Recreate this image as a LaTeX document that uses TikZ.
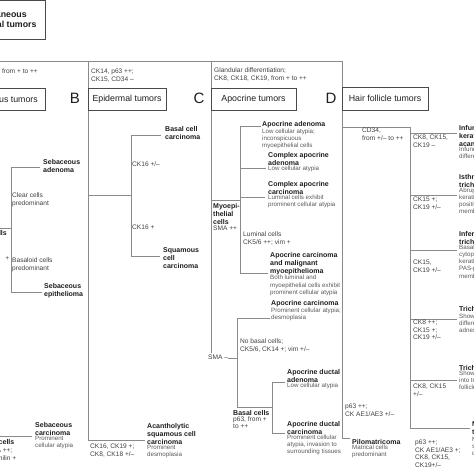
\documentclass[tikz,border=0pt]{standalone}
\usepackage{fontspec}
\setmainfont{Liberation Sans}
\definecolor{linegray}{HTML}{8A8A8A}
\definecolor{boxgray}{HTML}{4A4A4A}
\definecolor{txt}{HTML}{1E1E1E}
\definecolor{desc}{HTML}{5A5A5A}
\begin{document}
\begin{tikzpicture}[x=1pt,y=-1pt,
  ln/.style={draw=linegray, line width=0.8pt},
  tbox/.style={draw=boxgray, line width=0.9pt, fill=white, inner sep=0pt, text=txt, font=\fontsize{8.8}{10.5}\selectfont},
  nm/.style={anchor=north west, inner sep=0pt, align=left, text=txt, font=\fontsize{7}{7.9}\selectfont\bfseries},
  ds/.style={anchor=north west, inner sep=0pt, align=left, text=desc, font=\fontsize{6.2}{7.1}\selectfont},
  lb/.style={anchor=north west, inner sep=0pt, align=left, text=txt!85, font=\fontsize{6.6}{7.8}\selectfont},
  letter/.style={text=txt, font=\fontsize{15}{15}\selectfont, inner sep=0pt},
]
\useasboundingbox (0,0) rectangle (474,474);
\clip (0,0) rectangle (474,474);
\fill[white] (0,0) rectangle (474,474);

% ---------- connectors ----------
\coordinate (top0) at (0,61);
\coordinate (topD) at (342,61);
\draw[ln] (top0) -- (topD);
% column A
\draw[ln] (40,167) -- (11,167) -- (11,292) -- (42,292);
\draw[ln] (0,228) -- (11,228);
\draw[ln] (0,436) -- (32,436);
% column B
\coordinate (tB) at (88,61);
\draw[ln] (tB) -- (88,440) -- (145,440);
\draw[ln] (88,195) -- (131,195);
\draw[ln] (161,135) -- (131,135) -- (131,256) -- (160,256);
% column C
\coordinate (tC) at (211,61);
\draw[ln] (tC) -- (211,353);
\draw[ln] (211,200) -- (240,200);
\draw[ln] (261,126) -- (240,126) -- (240,273) -- (268,273);
\draw[ln] (240,168) -- (266,168);
\draw[ln] (240,197) -- (265,197);
\draw[ln] (228,358) -- (237,358);
\draw[ln] (270,318) -- (237,318) -- (237,407) -- (272,407);
\draw[ln] (285,382) -- (272,382) -- (272,433) -- (285,433);
% column D
\draw[ln] (topD) -- (342,438) -- (350,438);
\draw[ln] (342,127) -- (410,127) -- (410,428) -- (470,428);
\draw[ln] (410,133) -- (457,133);
\draw[ln] (410,195) -- (457,195);
\draw[ln] (410,250) -- (457,250);
\draw[ln] (410,319) -- (457,319);
\draw[ln] (410,380) -- (457,380);

% ---------- title boxes ----------
\draw[draw=boxgray, line width=0.9pt, fill=white] (-45,0.5) rectangle (45,39);
\node[text=txt, align=center, font=\fontsize{8.8}{10.5}\selectfont\bfseries] (root) at (4,19.5) {Cutaneous\\adnexal tumors};

\draw[draw=boxgray, line width=0.9pt, fill=white] (-45,88) rectangle (45,110);
\node[anchor=east, inner sep=0pt, text=txt, font=\fontsize{8.8}{10.5}\selectfont] (boxA) at (38,99) {Sebaceous tumors};
\node[lb, anchor=north east] (hA) at (38,68.5) {EMA, from + to ++};

\node[letter] (LB) at (75,98.5) {B};
\node[tbox, minimum width=78pt, minimum height=22pt] (boxB) at (127,99) {Epidermal tumors};
\node[lb] (hB) at (91,68.5) {CK14, p63 ++;\\CK15, CD34 --};

\node[letter] (LC) at (199,98.5) {C};
\node[tbox, minimum width=85pt, minimum height=22pt] (boxC) at (253.5,99) {Apocrine tumors};
\node[lb] (hC) at (214,67.5) {Glandular differentiation;\\CK8, CK18, CK19, from + to ++};

\node[letter] (LD) at (331,98) {D};
\node[tbox, minimum width=86pt, minimum height=23pt] (boxD) at (385,98.5) {Hair follicle tumors};

% ---------- column A ----------
\node[nm] (sa) at (43,159.5) {Sebaceous\\adenoma};
\node[lb] (cc) at (12,192.5) {Clear cells\\predominant};
\node[nm, anchor=north east] (ac) at (7,230.5) {Sebaceous cells};
\node[lb, anchor=north east] (ap) at (9.5,256.5) {+};
\node[lb] (bc) at (12,257.5) {Basaloid cells\\predominant};
\node[nm] (se) at (44,283.5) {Sebaceous\\epithelioma};
\node[nm] (sc) at (35,422.5) {Sebaceous\\carcinoma};
\node[ds] at (sc.south west) {Prominent\\cellular atypia};
\node[nm, anchor=north east] (bcl) at (14.5,439.5) {Basaloid cells};
\node[lb, anchor=north east] (bm) at (12.5,447.5) {EMA ++;};
\node[lb, anchor=north east] (bm2) at (16.5,455.5) {adipophilin +};

% ---------- column B ----------
\node[nm] (bcc) at (165,126.5) {Basal cell\\carcinoma};
\node[lb] (k1) at (132,161.5) {CK16 +/--};
\node[lb] (k2) at (132,224.5) {CK16 +};
\node[nm] (scc) at (163,247.5) {Squamous\\cell\\carcinoma};
\node[nm] (asc) at (147,423.5) {Acantholytic\\squamous cell\\carcinoma};
\node[ds] at (asc.south west) {Prominent\\desmoplasia};
\node[lb] (k3) at (90,443.5) {CK16, CK19 +;\\CK8, CK18 +/--};

% ---------- column C ----------
\node[nm] (myo) at (213,203.5) {Myoepi-\\thelial\\cells};
\node[lb, yshift=-1pt] at (myo.south west) {SMA ++};
\node[nm] (aa) at (262,121.5) {Apocrine adenoma};
\node[ds] at (aa.south west) {Low cellular atypia;\\inconspicuous\\myoepithelial cells};
\node[nm] (caa) at (268,152.5) {Complex apocrine\\adenoma};
\node[ds] at (caa.south west) {Low cellular atypia};
\node[nm] (cac) at (268,181.5) {Complex apocrine\\carcinoma};
\node[ds] at (cac.south west) {Luminal cells exhibit\\prominent cellular atypia};
\node[lb] (lum) at (243,231.5) {Luminal cells\\CK5/6 ++; vim +};
\node[nm] (acm) at (270,252.5) {Apocrine carcinoma\\and malignant\\myoepithelioma};
\node[ds] at (acm.south west) {Both luminal and\\myoepithelial cells exhibit\\prominent cellular atypia};
\node[lb] (sma) at (208,354.5) {SMA --};
\node[nm] (ac2) at (271,300.5) {Apocrine carcinoma};
\node[ds] at (ac2.south west) {Prominent cellular atypia;\\desmoplasia};
\node[lb] (nb) at (240,338.5) {No basal cells;\\CK5/6, CK14 +; vim +/--};
\node[nm] (bas) at (233,410.5) {Basal cells};
\node[lb] at (bas.south west) {p63, from +\\to ++};
\node[nm] (ada) at (287,369.5) {Apocrine ductal\\adenoma};
\node[ds] at (ada.south west) {Low cellular atypia};
\node[nm] (adc) at (287,421.5) {Apocrine ductal\\carcinoma};
\node[ds] at (adc.south west) {Prominent cellular\\atypia, invasion to\\surrounding tissues};

% ---------- column D ----------
\node[lb] (cd) at (362,128) {CD34,\\from +/-- to ++};
\node[lb] (d1) at (413,134.5) {CK8, CK15,\\CK19 --};
\node[nm] (ika) at (459,125.5) {Infundibular\\keratinizing\\acanthoma};
\node[ds] at (ika.south west) {Infundibular\\differentiation};
\node[lb] (d2) at (413,196.5) {CK15 +;\\CK19 +/--};
\node[nm] (itr) at (459,174.5) {Isthmic\\trichilemmoma};
\node[ds] at (itr.south west) {Abrupt\\keratinization;\\positive\\membrane};
\node[lb] (d3) at (413,259.5) {CK15,\\CK19 +/--};
\node[nm] (inf) at (459,231.5) {Inferior\\trichilemmoma};
\node[ds] at (inf.south west) {Basaloid cells;\\cytoplasm clear;\\keratinization;\\PAS-positive\\membrane};
\node[lb] (d4) at (413,319.5) {CK8 ++;\\CK15 +;\\CK19 +/--};
\node[nm] (tep) at (459,306.5) {Trichoepithelioma};
\node[ds] at (tep.south west) {Shows\\differentiation\\adnexal};
\node[lb] (d5) at (413,383.5) {CK8, CK15\\+/--};
\node[nm] (tbl) at (459,365.5) {Trichoblastoma};
\node[ds] at (tbl.south west) {Shows\\into trichoblasts\\follicle};
\node[nm] (mte) at (472,421.5) {Malignant\\trichoepithelioma};
\node[ds] at (mte.south west) {Marked\\stroma\\desmoplasia};
\node[lb] (d6) at (415,439.5) {p63 ++;\\CK AE1/AE3 +;\\CK8, CK15,\\CK19+/--};
\node[lb] (d7) at (345,403.5) {p63 ++;\\CK AE1/AE3 +/--};
\node[nm] (pil) at (352,439.5) {Pilomatricoma};
\node[ds] at (pil.south west) {Matrical cells\\predominant};
\end{tikzpicture}
\end{document}
